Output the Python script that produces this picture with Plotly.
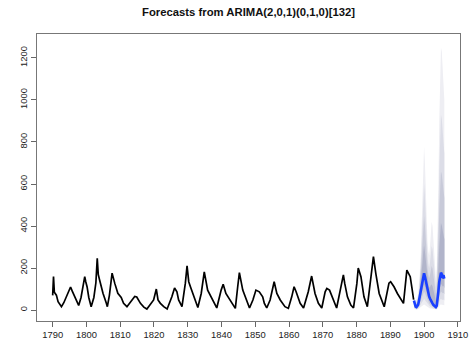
import plotly.graph_objects as go

# ---- historical series ----
hist_year = [1790.0, 1790.25, 1790.5, 1791.1, 1791.6, 1792.6, 1793.3, 1794.0, 1794.6, 1795.3,
             1795.8, 1796.5, 1797.2, 1797.7, 1798.4, 1799.0, 1799.5, 1799.8, 1800.2, 1800.7,
             1801.4, 1802.2, 1802.8, 1803.2, 1803.5, 1803.9, 1804.9, 1805.9, 1806.2, 1806.8,
             1807.4, 1807.6, 1808.4, 1809.3, 1810.3, 1811.0, 1812.0, 1813.5, 1814.3, 1814.9,
             1816.0, 1817.0, 1817.9, 1819.9, 1820.3, 1820.7, 1821.2, 1821.9, 1822.9, 1823.9,
             1825.3, 1826.1, 1826.8, 1827.3, 1828.3, 1829.3, 1829.8, 1830.3, 1830.8, 1831.8,
             1833.0, 1834.0, 1834.9, 1835.9, 1836.9, 1837.9, 1838.6, 1839.9, 1840.5, 1841.3,
             1842.3, 1843.3, 1844.1, 1844.8, 1845.3, 1846.3, 1847.3, 1848.3, 1849.3, 1850.2,
             1851.2, 1852.2, 1852.7, 1853.4, 1854.4, 1855.6, 1856.4, 1857.4, 1858.8, 1859.8,
             1860.8, 1861.5, 1862.1, 1863.3, 1864.3, 1865.7, 1866.7, 1867.7, 1868.7, 1869.7,
             1870.7, 1871.2, 1872.0, 1873.1, 1874.1, 1875.6, 1876.1, 1876.5, 1877.3, 1878.3,
             1879.1, 1880.1, 1880.5, 1881.3, 1882.2, 1883.2, 1884.2, 1885.0, 1885.7, 1886.7,
             1888.2, 1889.6, 1890.1, 1891.1, 1892.1, 1893.1, 1893.9, 1894.9, 1895.9, 1896.5,
             1896.9]
hist_value = [70, 160, 85, 71, 40, 16, 35, 63, 85, 110,
              90, 63, 35, 22, 60, 119, 159, 135, 110, 60,
              16, 60, 130, 246, 170, 143, 80, 32, 16, 70,
              159, 176, 127, 80, 60, 32, 16, 48, 65, 62,
              32, 14, 5, 48, 70, 100, 48, 32, 16, 5,
              63, 105, 87, 48, 16, 128, 210, 135, 111, 63,
              12, 79, 182, 95, 63, 32, 10, 95, 123, 79,
              55, 32, 8, 111, 178, 95, 48, 10, 48, 95,
              87, 63, 32, 10, 48, 135, 79, 48, 16, 8,
              63, 111, 87, 32, 10, 87, 162, 79, 32, 10,
              87, 103, 95, 48, 10, 128, 167, 127, 63, 24,
              10, 127, 200, 159, 63, 16, 143, 254, 175, 79,
              16, 128, 135, 111, 79, 55, 32, 190, 159, 95,
              50]

# ---- forecast ----
fc_year = [1897.0, 1897.25, 1897.5, 1897.75, 1898.0, 1898.25, 1898.5, 1898.75, 1899.0, 1899.25,
           1899.5, 1899.75, 1900.0, 1900.25, 1900.5, 1900.75, 1901.0, 1901.25, 1901.5, 1901.75,
           1902.0, 1902.25, 1902.5, 1902.75, 1903.0, 1903.25, 1903.5, 1903.75, 1904.0, 1904.25,
           1904.5, 1904.75, 1905.0, 1905.25, 1905.5, 1905.75, 1906.0]
fc_mean = [45, 25, 16, 14, 18, 25, 45, 70, 90, 110, 135, 160, 175, 160, 140, 115, 95, 80, 65, 55,
           45, 38, 32, 25, 20, 16, 14, 20, 45, 90, 135, 165, 178, 170, 160, 165, 150]

upper_99 = [60, 50, 45, 50, 60, 80, 120, 180, 260, 380, 520, 680, 780, 700, 560, 420, 330, 280, 260, 300,
            380, 420, 400, 330, 250, 180, 150, 200, 350, 600, 900, 1150, 1250, 1230, 1150, 1100, 1000]
upper_95 = [55, 42, 36, 40, 48, 62, 95, 145, 210, 300, 405, 520, 600, 540, 430, 330, 260, 220, 200, 225,
            280, 305, 290, 240, 180, 130, 110, 145, 260, 450, 670, 855, 930, 910, 850, 820, 745]
upper_80 = [52, 36, 29, 30, 37, 50, 79, 120, 166, 232, 308, 394, 447, 403, 329, 252, 201, 170, 153, 165,
            196, 210, 198, 162, 124, 90, 75, 101, 182, 320, 479, 608, 660, 647, 606, 586, 533]
upper_60 = [48, 30, 22, 22, 27, 37, 61, 94, 127, 169, 220, 274, 308, 279, 232, 182, 147, 124, 108, 109,
            119, 122, 113, 92, 71, 52, 44, 60, 112, 202, 303, 382, 414, 403, 378, 371, 337]
lower_60 = [32, 18, 11, 10, 13, 18, 32, 49, 63, 77, 95, 112, 123, 112, 98, 81, 67, 56, 46, 39,
            32, 27, 22, 18, 14, 11, 10, 14, 32, 63, 95, 116, 125, 119, 112, 116, 105]
lower_80 = [23, 13, 8, 7, 9, 13, 23, 35, 45, 55, 68, 80, 88, 80, 70, 58, 48, 40, 33, 28,
            23, 19, 16, 13, 10, 8, 7, 10, 23, 45, 68, 83, 89, 85, 80, 83, 75]
lower_95 = [14, 8, 5, 4, 5, 8, 14, 21, 27, 33, 41, 48, 53, 48, 42, 35, 29, 24, 20, 17,
            14, 11, 10, 8, 6, 5, 4, 6, 14, 27, 41, 50, 53, 51, 48, 50, 45]
lower_99 = [7, 4, 2, 2, 3, 4, 7, 11, 14, 17, 20, 24, 26, 24, 21, 17, 14, 12, 10, 8,
            7, 6, 5, 4, 3, 2, 2, 3, 7, 14, 20, 25, 27, 26, 24, 25, 23]

x_ticks = [1790, 1800, 1810, 1820, 1830, 1840, 1850, 1860, 1870, 1880, 1890, 1900, 1910]
y_ticks = [0, 200, 400, 600, 800, 1000, 1200]
title_text = "Forecasts from ARIMA(2,0,1)(0,1,0)[132]"

bands = [
    (lower_99, upper_99, "#EEEEF3"),
    (lower_95, upper_95, "#DCDDE7"),
    (lower_80, upper_80, "#C8CAD9"),
    (lower_60, upper_60, "#B1B4CA"),
]

fig = go.Figure()
for lo, hi, col in bands:
    fig.add_trace(go.Scatter(x=fc_year, y=lo, mode="lines", line=dict(width=0, color=col),
                             showlegend=False, hoverinfo="skip"))
    fig.add_trace(go.Scatter(x=fc_year, y=hi, mode="lines", line=dict(width=0, color=col),
                             fill="tonexty", fillcolor=col, showlegend=False, hoverinfo="skip"))

fig.add_trace(go.Scatter(x=hist_year, y=hist_value, mode="lines",
                         line=dict(color="#000000", width=1.7), showlegend=False))
fig.add_trace(go.Scatter(x=fc_year, y=fc_mean, mode="lines",
                         line=dict(color="#1a40ff", width=2.6), showlegend=False))

axis_font = dict(family="Liberation Sans, Arial, sans-serif", size=9.4, color="#222222")
fig.update_layout(
    width=474, height=360,
    margin=dict(l=37, r=14, t=34, b=39, autoexpand=False),
    paper_bgcolor="white", plot_bgcolor="white",
    title=dict(text="<b>" + title_text + "</b>", x=(37 + 460) / 2 / 474, xanchor="center",
               y=1 - 12 / 360, yanchor="middle", automargin=False,
               font=dict(family="Liberation Sans, Arial, sans-serif", size=11.3, color="#111111")),
    xaxis=dict(range=[1785.36, 1910.64], tickvals=x_ticks, ticks="outside", ticklen=5,
               tickcolor="#666666", showline=True, linecolor="#777777", mirror=True,
               showgrid=False, zeroline=False, tickfont=axis_font, automargin=False),
    yaxis=dict(range=[-52, 1314], tickvals=y_ticks, ticks="outside", ticklen=5,
               tickcolor="#666666", showline=True, linecolor="#777777", mirror=True,
               showgrid=False, zeroline=False, tickangle=-90, tickfont=axis_font,
               automargin=False),
    hovermode=False,
)

fig.write_html("out.html", config={"displayModeBar": False, "staticPlot": True},
               post_script="document.body.style.margin='0';")
